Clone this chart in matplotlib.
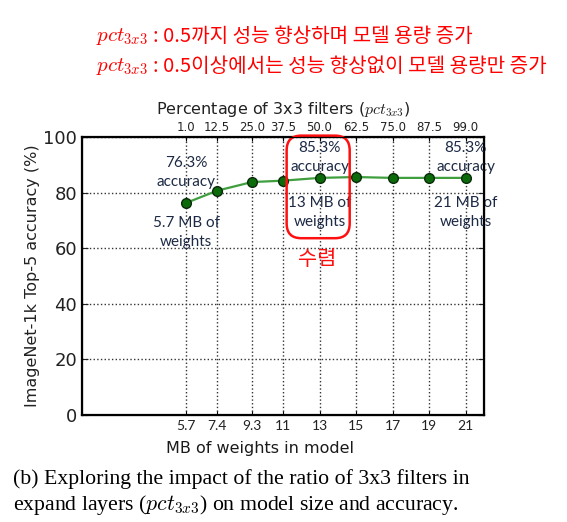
import matplotlib
matplotlib.use('Agg')
import matplotlib.pyplot as plt
from matplotlib.patches import FancyBboxPatch

plt.rcParams['mathtext.fontset'] = 'cm'

# model size (MB) for each pct_3x3 setting, and top-5 accuracy
mb_weights = [5.7, 7.4, 9.3, 11, 13, 15, 17, 19, 21]
mb_labels = ['5.7', '7.4', '9.3', '11', '13', '15', '17', '19', '21']
pct_labels = ['1.0', '12.5', '25.0', '37.5', '50.0', '62.5', '75.0', '87.5', '99.0']
accuracy = [76.3, 80.7, 83.8, 84.3, 85.3, 85.6, 85.3, 85.3, 85.3]

ink = '#1d2a45'
fig = plt.figure(figsize=(5.67, 5.22), dpi=100)
ax = fig.add_axes([0.1446, 0.205, 0.709, 0.5325])

ax.plot(mb_weights, accuracy, '-', color='#3f9f3f', lw=1.6, zorder=3)
ax.plot(mb_weights, accuracy, 'o', ms=7, mfc='#0b6b0b', mec='#0a2a0a', mew=1, zorder=4)

ax.set_xlim(0, 22)
ax.set_ylim(0, 100)
ax.set_xticks(mb_weights)
ax.set_xticklabels(mb_labels, fontsize=10, family='Lato', color='#222222')
ax.set_yticks(range(0, 101, 20))
ax.tick_params(axis='y', labelsize=13, colors='#222222', direction='in', right=True, length=4)
ax.tick_params(axis='x', direction='in', length=3)
ax.grid(True, linestyle=':', color='#333333', lw=1)
for s in ax.spines.values():
    s.set_linewidth(1.6)
ax.set_xlabel('MB of weights in model', fontsize=11.5, color='#1a1a1a')
ax.xaxis.set_label_coords(0.443, -0.095)
ax.set_ylabel('ImageNet-1k Top-5 accuracy (%)', fontsize=11.5, color='#222222', labelpad=2)

top = ax.twiny()
top.set_xlim(ax.get_xlim())
top.set_xticks(mb_weights)
top.set_xticklabels(pct_labels, fontsize=8.5, color='#222222')
top.tick_params(axis='x', direction='in', length=3, pad=2)
top.set_xlabel('Percentage of 3x3 filters ($pct_{3x3}$)', fontsize=11.5, color='#222222', labelpad=5)

# annotations
kw = dict(ha='center', va='center', fontsize=11, family='Lato', color=ink, linespacing=1.4)
ax.text(5.7, 87.2, '76.3%\naccuracy', **kw)
ax.text(5.7, 65.6, '5.7 MB of\nweights', **kw)
ax.text(13, 92.7, '85.3%\naccuracy', **kw)
ax.text(13, 72.9, '13 MB of\nweights', **kw)
ax.text(21, 92.7, '85.3%\naccuracy', **kw)
ax.text(21, 72.9, '21 MB of\nweights', **kw)

box = FancyBboxPatch((11.2, 63.6), 3.45, 36.9,
                     boxstyle='round,pad=0,rounding_size=0.8', mutation_aspect=6.6,
                     fill=False, ec='#ff1010', lw=1.8, clip_on=False, zorder=5)
ax.add_patch(box)
ax.text(12.85, 56.0, '수렴', ha='center', va='center', fontsize=15,
        family='Noto Sans CJK KR', color='#ff1010')

# red notes on top
red = '#ff0000'
fig.text(0.170, 0.930, '$pct_{3x3}$', fontsize=15, color=red, va='center')
fig.text(0.270, 0.930, ': 0.5까지 성능 향상하며 모델 용량 증가', fontsize=14.5,
         family=['Noto Sans CJK KR', 'DejaVu Sans'], color=red, va='center')
fig.text(0.170, 0.873, '$pct_{3x3}$', fontsize=15, color=red, va='center')
fig.text(0.270, 0.873, ': 0.5이상에서는 성능 향상없이 모델 용량만 증가', fontsize=14.5,
         family=['Noto Sans CJK KR', 'DejaVu Sans'], color=red, va='center')

# caption
fig.text(0.023, 0.056, '(b) Exploring the impact of the ratio of 3x3 filters in\n'
         'expand layers ($pct_{3x3}$) on model size and accuracy.',
         fontsize=15.7, family='Liberation Serif', color='black', va='center', linespacing=1.25)

fig.savefig('out.png', dpi=100)
